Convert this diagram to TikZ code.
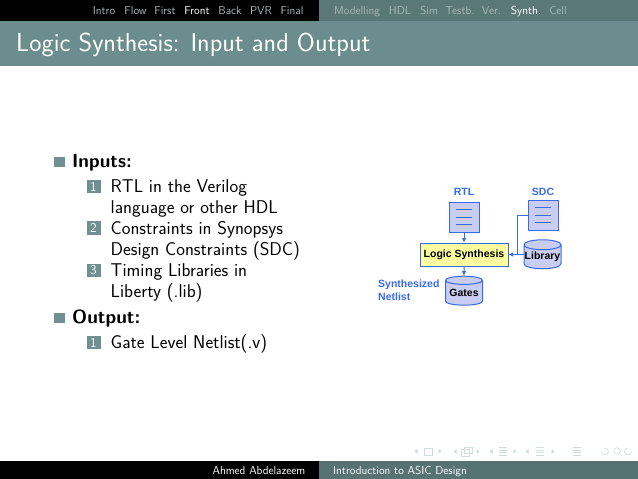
\documentclass[tikz,border=0pt]{standalone}
\usepackage{fontspec}
\usepackage{xcolor}
\usetikzlibrary{shapes.geometric,calc,arrows.meta,positioning}
\newfontfamily\diagfont{Liberation Sans}
\definecolor{bandteal}{HTML}{6B8D8D}
\definecolor{darkteal}{HTML}{567272}
\definecolor{bulletteal}{HTML}{6F9090}
\definecolor{navgray}{HTML}{A9B8B8}
\definecolor{iconcol}{HTML}{D3DCDC}
\definecolor{diagblue}{HTML}{3A6BE6}
\definecolor{docfill}{HTML}{C9CDF2}
\definecolor{synthfill}{HTML}{FBFBA0}
\tikzset{
  navtext/.style={anchor=base, inner sep=0pt, text=navgray, font=\sffamily\fontsize{11.5}{12}\selectfont},
  navcur/.style={navtext, text=white},
  itemhead/.style={anchor=base west, inner sep=0pt, font=\sffamily\bfseries\fontsize{19}{21}\selectfont},
  itemtext/.style={anchor=base west, inner sep=0pt, font=\sffamily\fontsize{18.5}{21}\selectfont},
  headbullet/.style={fill=bulletteal, inner sep=0pt, minimum size=10.5pt},
  numbox/.style={fill=bulletteal, inner sep=0pt, minimum width=14pt, minimum height=13.5pt, text=white, font=\sffamily\fontsize{13.5}{13.5}\selectfont},
  docbox/.style={draw=diagblue, fill=docfill, line width=1pt, minimum width=30pt, minimum height=30pt, inner sep=0pt},
  docline/.style={diagblue, line width=0.9pt},
  synthbox/.style={draw=diagblue, fill=synthfill, line width=1pt, minimum width=88pt, minimum height=23pt, inner sep=0pt, font=\diagfont\bfseries\fontsize{10.5}{11}\selectfont},
  store/.style={cylinder, shape border rotate=90, aspect=0.28, draw=diagblue, fill=docfill, line width=1pt, minimum width=37pt, minimum height=29pt, inner sep=0pt, font=\diagfont\bfseries\fontsize{10.5}{11}\selectfont},
  bluelabel/.style={inner sep=0pt, text=diagblue, font=\diagfont\bfseries\fontsize{10.5}{13}\selectfont},
  flow/.style={diagblue, line width=1pt, -{Latex[length=4.5pt,width=4.5pt]}},
  flowplain/.style={diagblue, line width=1pt},
  navicon/.style={iconcol, line width=0.6pt},
  navtip/.style={fill=iconcol, draw=none}
}
\begin{document}
\begin{tikzpicture}[x=1pt,y=-1pt]
	\useasboundingbox (0,0) rectangle (638,479);
	\fill[white] (0,0) rectangle (638,479);
	\fill[black] (0,0) rectangle (319,21);
	\fill[bandteal!85!black] (319,0) rectangle (638,21);
	\fill[bandteal] (0,21) rectangle (638,66);
	\fill[black] (0,461) rectangle (319,479);
	\fill[darkteal] (319,461) rectangle (638,479);

	\foreach \name/\xpos in {Intro/104,Flow/135.5,First/165,Back/230,PVR/261,Final/292,Modelling/357,HDL/400,Sim/429,Testb./460,Ver./491.5,Cell/558}
		\node[navtext] at (\xpos,14) {\name};
	\node[navcur] (front) at (197,14) {Front};
	\node[navcur] (synth) at (526,14) {Synth.};

	\node[anchor=base west, inner sep=0pt, text=white, font=\sffamily\fontsize{26}{28}\selectfont] (title) at (16,52) {Logic Synthesis: Input and Output};

	\node[headbullet] (b1) at (59.5,162) {};
	\node[itemhead] (inputs) at (72,167) {Inputs:};
	\node[numbox] (n1) at (93.5,186.5) {1};
	\node[itemtext] (t1) at (110.5,192) {RTL in the Verilog};
	\node[itemtext] (t1b) at (110.5,213) {language or other HDL};
	\node[numbox] (n2) at (93.5,228) {2};
	\node[itemtext] (t2) at (110.5,234) {Constraints in Synopsys};
	\node[itemtext] (t2b) at (110.5,255) {Design Constraints (SDC)};
	\node[numbox] (n3) at (93.5,270.5) {3};
	\node[itemtext] (t3) at (110.5,276) {Timing Libraries in};
	\node[itemtext] (t3b) at (110.5,297) {Liberty (.lib)};
	\node[headbullet] (b2) at (59.5,318) {};
	\node[itemhead] (output) at (72,323) {Output:};
	\node[numbox] (n4) at (93.5,342.5) {1};
	\node[itemtext] (t4) at (110.5,348) {Gate Level Netlist(.v)};

	\node[docbox] (rtl) at (464,217) {};
	\node[docbox] (sdc) at (543,215) {};
	\foreach \doc in {rtl,sdc}
		\foreach \i in {-1,0,1}
			\draw[docline] ($(\doc.center)+(-8,\i*7.5)$) -- ($(\doc.center)+(8,\i*7.5)$);
	\node[bluelabel, above=5.5pt of rtl] (rtllabel) {RTL};
	\node[bluelabel, above=3.5pt of sdc] (sdclabel) {SDC};
	\node[synthbox] (synthesis) at (464,254.5) {Logic Synthesis};
	\node[store] (library) at (542.5,257) {Library};
	\node[store] (gates) at (464,293) {Gates};
	\node[bluelabel, align=left, anchor=north west] (netlist) at (378,279.5) {Synthesized\\Netlist};
	\coordinate (merge) at (517.5,254.5);

	\draw[flow] (rtl) -- (synthesis);
	\draw[flow] (synthesis) -- (gates);
	\draw[flow] (library.west |- synthesis.east) -- (synthesis.east);
	\draw[flowplain] (sdc.west) -| (merge);

	\node[anchor=base, inner sep=0pt, text=white, font=\sffamily\fontsize{11.5}{12}\selectfont] (author) at (259,474.5) {Ahmed Abdelazeem};
	\node[anchor=base, inner sep=0pt, text=white, font=\sffamily\fontsize{11.5}{12}\selectfont] (talk) at (400,474.5) {Introduction to ASIC Design};

	\foreach \xpos in {416,455,491,527}
		\fill[navtip] (\xpos+1.5,449) -- (\xpos-1.5,451.5) -- (\xpos+1.5,454) -- cycle;
	\foreach \xpos in {440,478,515,553}
		\fill[navtip] (\xpos-1.5,449) -- (\xpos+1.5,451.5) -- (\xpos-1.5,454) -- cycle;
	\draw[navicon] (424,448) rectangle (432,455);
	\draw[navicon] (461,449) rectangle (469,456);
	\draw[navicon] (464,447) rectangle (472,453);
	\foreach \xpos in {503,540,577}
		\foreach \i in {0,2.5,5,7.5}
			\draw[navicon] (\xpos-4,447.5+\i) -- (\xpos+4,447.5+\i);
	\draw[navicon] (601.5,451.5) arc (180:-100:3.5);
	\draw[navicon] (617,451) circle (3.2);
	\draw[navicon] (619.5,453.5) -- (622,456);
	\draw[navicon] (631.5,451.5) arc (0:280:3.5);
\end{tikzpicture}
\end{document}
